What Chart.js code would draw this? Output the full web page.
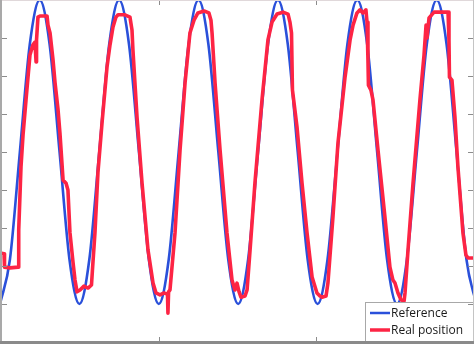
<!DOCTYPE html>
<html><head><meta charset="utf-8">
<script src="https://cdn.jsdelivr.net/npm/chart.js@4.4.1/dist/chart.umd.min.js"></script>
<style>html,body{margin:0;padding:0;background:#fff;} canvas{display:block;}</style>
</head><body>
<canvas id="c" width="474" height="344"></canvas>
<script>
const seriesNames = ['Reference', 'Real position'];
const seriesColors = ['#2a50da', '#fd2444'];

// Reference signal (time, value)
const refTime = [-0.0127,0.0505,0.1137,0.1769,0.2402,0.3034,0.3666,0.4298,0.4930,0.5562,0.6194,0.6827,0.7459,0.8091,0.8723,0.9355,0.9987,1.0619,1.1252,1.1884,1.2516,1.3148,1.3780,1.4412,1.5044,1.5677,1.6309,1.6941,1.7573,1.8205,1.8837,1.9469,2.0102,2.0734,2.1366,2.1998,2.2630,2.3262,2.3894,2.4527,2.5159,2.5791,2.6423,2.7055,2.7687,2.8319,2.8952,2.9584,3.0216];
const refValue = [-4,-2.83,0,2.83,4,2.83,0,-2.83,
                  -4,-2.83,0,2.83,4,2.83,0,-2.83,
                  -4,-2.83,0,2.83,4,2.83,0,-2.83,
                  -4,-2.83,0,2.83,4,2.83,0,-2.83,
                  -4,-2.83,0,2.83,4,2.83,0,-2.83,
                  -4,-2.83,0,2.83,4,2.83,0,-2.83,
                  -4];

const realTime = [-0.01,0.013,0.016,0.051,0.102,0.105,0.108,0.121,0.134,0.153,0.178,0.197,0.210,0.217,0.220,0.229,0.242,0.287,0.293,0.306,0.325,0.338,0.357,0.369,0.389,0.408,0.420,0.433,0.452,0.465,0.478,0.497,0.522,0.548,0.570,
  0.576,0.592,0.611,0.637,0.669,0.688,0.707,0.726,0.739,0.783,0.815,0.828,0.834,0.860,0.892,0.930,0.962,0.981,1.006,1.032,1.054,1.057,1.061,1.070,
  1.102,1.134,1.166,1.197,1.223,1.248,1.287,1.318,1.331,1.338,1.357,1.389,1.433,1.465,1.484,1.497,1.510,1.522,1.548,1.561,
  1.580,1.611,1.656,1.694,1.720,1.752,1.790,1.822,1.834,1.844,1.850,1.879,1.911,1.943,1.975,2.006,2.025,2.038,2.064,2.076,
  2.108,2.140,2.185,2.217,2.236,2.261,2.280,2.299,2.318,2.325,2.331,2.334,2.350,2.363,2.395,2.439,2.471,2.490,2.503,2.522,2.541,2.561,2.567,
  2.586,2.618,2.662,2.688,2.701,2.707,2.720,2.752,2.796,2.841,2.847,2.850,2.866,2.885,2.904,2.936,2.955,2.968,3.006];
const realValue = [-2.66,-2.68,-3.03,-3.05,-3.03,-2.45,-2.05,-0.39,0.45,1.37,2.55,2.82,2.89,2.37,2.95,3.55,3.58,3.58,3.34,3.13,2.42,1.82,1.11,0.50,-0.74,-0.82,-1.00,-2.13,-2.89,-3.37,-3.68,-3.63,-3.53,-3.58,-3.50,
  -3.11,-2.13,-0.55,0.76,2.24,2.82,3.29,3.55,3.61,3.61,3.55,3.21,2.68,0.92,-0.82,-2.58,-3.45,-3.71,-3.76,-3.71,-3.74,-4.24,-3.68,-3.63,
  -2.13,0.05,1.82,3.13,3.47,3.66,3.71,3.66,3.47,3.13,1.82,0.05,-2.13,-3.37,-3.63,-3.45,-3.68,-3.82,-3.79,-3.63,
  -2.58,-0.82,1.37,2.95,3.42,3.63,3.68,3.63,3.42,3.13,1.63,0.66,-0.82,-2.13,-3.29,-3.71,-3.79,-3.82,-3.79,-3.45,
  -1.71,0.24,1.97,2.95,3.34,3.66,3.74,3.66,3.74,3.42,2.42,1.76,1.63,1.37,0.05,-1.71,-3.03,-3.37,-3.45,-3.71,-3.89,-3.92,-3.71,
  -2.58,-0.82,1.37,2.55,3.34,3.00,3.53,3.68,3.68,3.68,2.95,1.97,1.89,0.92,-0.39,-2.13,-2.71,-2.79,-2.79];

const xTickValues = [0, 1, 2, 3];
const yTickValues = [-4, -3, -2, -1, 0, 1, 2, 3];
const xRange = [0, 3];
const yRange = [-5, 4];

const refPoints = refTime.map((t, i) => ({x: t, y: refValue[i]}));
const realPoints = realTime.map((t, i) => ({x: t, y: realValue[i]}));

function seg(ctx, x1, y1, x2, y2) { ctx.beginPath(); ctx.moveTo(x1, y1); ctx.lineTo(x2, y2); ctx.stroke(); }

const framePlugin = {
  id: 'frame',
  afterDatasetsDraw(chart) {
    const {ctx, chartArea: a, scales} = chart;
    const xs = scales.x, ys = scales.y;
    ctx.save();
    // legend box
    const lx = 365.5, ly = 302.5, lw = a.right - 365, lh = a.bottom - 302;
    ctx.fillStyle = '#ffffff';
    ctx.fillRect(lx, ly, lw, lh);
    ctx.strokeStyle = '#a8a8a8'; ctx.lineWidth = 1;
    ctx.strokeRect(lx, ly, lw, lh);
    ctx.font = '12px "Open Sans", sans-serif';
    ctx.textBaseline = 'middle'; ctx.textAlign = 'left';
    chart.data.datasets.forEach((ds, i) => {
      const yy = 313 + i * 17;
      ctx.strokeStyle = ds.borderColor; ctx.lineWidth = i === 0 ? 2.5 : 3.5;
      seg(ctx, 370, yy, 390, yy);
      ctx.fillStyle = '#1a1a1a';
      ctx.fillText(ds.label, 391, yy + 0.5);
    });
    // inward ticks
    ctx.strokeStyle = '#8c8c8c'; ctx.lineWidth = 1;
    yTickValues.forEach(v => {
      const py = Math.round(ys.getPixelForValue(v)) + 0.5;
      seg(ctx, a.left, py, a.left + 5, py);
      seg(ctx, a.right - 5, py, a.right, py);
    });
    xTickValues.slice(1, -1).forEach(v => {
      const px = Math.round(xs.getPixelForValue(v)) + 0.5;
      seg(ctx, px, a.bottom, px, a.bottom - 5);
      seg(ctx, px, a.top, px, a.top + 5);
    });
    // frame
    ctx.strokeStyle = '#e0d8da'; ctx.lineWidth = 1;
    seg(ctx, a.left, a.top + 0.5, a.right, a.top + 0.5);
    ctx.strokeStyle = '#c4c4c4';
    seg(ctx, a.right + 0.5, a.top, a.right + 0.5, a.bottom);
    ctx.strokeStyle = '#a9a9a9'; ctx.lineWidth = 2;
    seg(ctx, a.left - 1, 0, a.left - 1, 344);
    ctx.strokeStyle = '#8a8a8a'; ctx.lineWidth = 3;
    seg(ctx, 0, a.bottom + 0.5, 474, a.bottom + 0.5);
    ctx.restore();
  }
};

new Chart(document.getElementById('c'), {
  type: 'line',
  data: {
    datasets: [
      {label: seriesNames[0], data: refPoints, borderColor: seriesColors[0], borderWidth: 2.6,
       pointRadius: 0, cubicInterpolationMode: 'monotone', order: 1, fill: false},
      {label: seriesNames[1], data: realPoints, borderColor: seriesColors[1], borderWidth: 3.6,
       pointRadius: 0, tension: 0, order: 0, fill: false, borderJoinStyle: 'round'}
    ]
  },
  options: {
    responsive: false,
    animation: false,
    devicePixelRatio: 1,
    layout: {padding: {left: 2, right: 1, top: 0, bottom: 2}},
    plugins: {legend: {display: false}, tooltip: {enabled: false}},
    scales: {
      x: {type: 'linear', min: xRange[0], max: xRange[1], display: false},
      y: {type: 'linear', min: yRange[0], max: yRange[1], display: false}
    }
  },
  plugins: [framePlugin]
});
</script>
</body></html>
